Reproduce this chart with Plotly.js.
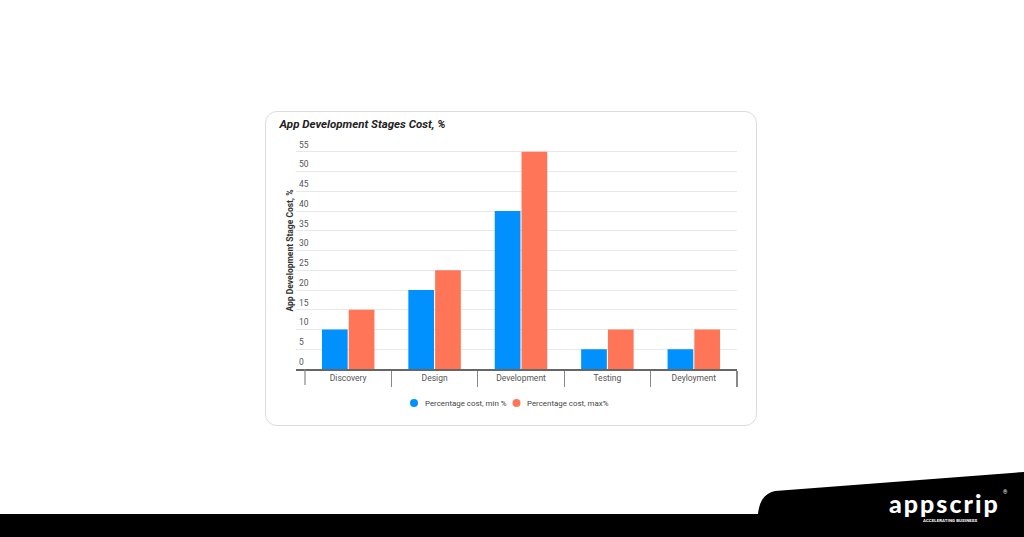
<!DOCTYPE html>
<html>
<head>
<meta charset="utf-8">
<script src="https://cdn.plot.ly/plotly-3.0.1.min.js"></script>
<style>
  html, body { margin: 0; padding: 0; background: #ffffff; width: 1024px; height: 537px; overflow: hidden; }
  #card { position: absolute; left: 265px; top: 111px; width: 490px; height: 313px; border: 1px solid #dcdcdc; border-radius: 12px; background: #fff; }
  #band { position: absolute; left: 0; top: 0; }
  #chart { position: absolute; left: 0; top: 0; width: 1024px; height: 537px; }
  #logo { position: absolute; left: 889px; top: 490.5px; color: #fff; font-family: Lato, "Open Sans", sans-serif; font-weight: 900; font-size: 25px; letter-spacing: 2px; line-height: 25px; }
  #tag { position: absolute; left: 923px; top: 518.2px; color: #fff; font-family: Roboto, sans-serif; font-weight: 700; font-size: 4.3px; letter-spacing: 0.1px; line-height: 5px; }
  #reg { position: absolute; left: 1003px; top: 489px; color: #fff; font-family: Roboto, sans-serif; font-size: 5.5px; line-height: 6px; }
</style>
</head>
<body>
<div id="card"></div>
<svg id="band" width="1024" height="537">
  <path d="M0,514 L758,514 Q760,494 775,491 L1024,472 L1024,537 L0,537 Z" fill="#000"/>
</svg>
<div id="chart"></div>
<div id="logo">appscrip</div>
<div id="tag">ACCELERATING BUSINESS</div>
<div id="reg">®</div>
<script>
const categories = ["Discovery", "Design", "Development", "Testing", "Deyloyment"];
const minPct = [10, 20, 40, 5, 5];
const maxPct = [15, 25, 55, 10, 10];
const seriesNames = ["Percentage cost, min %", "Percentage cost, max%"];
const yTicks = [0, 5, 10, 15, 20, 25, 30, 35, 40, 45, 50, 55];

const colors = ["#0091ff", "#ff7557"];
const labelFont = { family: "Roboto, sans-serif", size: 8.5, color: "#555" };

// plot area in pixels (y range extended to 60 so that the top label stays visible)
const YMAX = 60;
const PL = 296, PR = 737, PB = 369;
const PT = PB - YMAX * (217 / 55);
const px2x = p => (p - PL) / (PR - PL);
const px2y = p => (PB - p) / (PB - PT);

const data = [minPct, maxPct].map((vals, i) => ({
  type: "bar", x: categories, y: vals, name: seriesNames[i],
  marker: { color: colors[i] }, showlegend: false, hoverinfo: "skip"
}));

// manual legend (circle + text)
const legendX = [414, 516.5];
const legendY = px2y(403);
const shapes = seriesNames.map((n, i) => ({
  type: "circle", xref: "paper", yref: "paper", xsizemode: "pixel", ysizemode: "pixel",
  xanchor: px2x(legendX[i]), yanchor: legendY, x0: -4, x1: 4, y0: -4, y1: 4,
  fillcolor: colors[i], line: { width: 0 }
}));
// first category boundary tick
shapes.push({ type: "line", xref: "x", yref: "paper", ysizemode: "pixel", yanchor: 0,
  x0: -0.5, x1: -0.5, y0: 0, y1: -16, line: { color: "#888", width: 1.2 } });

const annotations = seriesNames.map((n, i) => ({
  text: n, xref: "paper", yref: "paper", x: px2x(legendX[i] + 8.5), y: legendY,
  xanchor: "left", yanchor: "middle", showarrow: false,
  font: { family: "Roboto, sans-serif", size: 7.9, color: "#444" }
}));

const layout = {
  width: 1024, height: 537,
  paper_bgcolor: "rgba(0,0,0,0)", plot_bgcolor: "rgba(0,0,0,0)",
  margin: { l: PL, r: 1024 - PR, t: PT, b: 537 - PB, pad: 0 },
  barmode: "group", bargap: 0.38, bargroupgap: 0.04,
  showlegend: false,
  title: { text: "<b><i>App Development Stages Cost, %</i></b>", xref: "container", yref: "container", x: 0.273, xanchor: "left", y: 1 - 124/537, yanchor: "middle",
           font: { family: "Roboto, sans-serif", size: 11.5, color: "#222" } },
  xaxis: {
    type: "category", range: [-0.604, 4.5], fixedrange: true,
    showline: true, linecolor: "#666", linewidth: 2,
    ticks: "outside", tickson: "boundaries", ticklen: 16, tickcolor: "#888", tickwidth: 1.2,
    tickfont: labelFont, ticklabelstandoff: 0, showgrid: false
  },
  yaxis: {
    range: [0, YMAX], autorange: false, tickvals: yTicks, ticktext: yTicks.map(String), fixedrange: true,
    ticklabelposition: "inside", ticklabelshift: -7, ticks: "",
    tickfont: { family: "Roboto, sans-serif", size: 8.5, color: "#555" },
    showgrid: true, gridcolor: "#e8e8e8", gridwidth: 1, zeroline: false, showline: false,
    title: { text: "<b>App Development Stage Cost, %</b>", standoff: 4, font: { family: "Roboto, sans-serif", size: 8.5, color: "#333" } }
  },
  shapes: shapes,
  annotations: annotations
};

Plotly.newPlot("chart", data, layout, { displayModeBar: false, staticPlot: true });
</script>
</body>
</html>
